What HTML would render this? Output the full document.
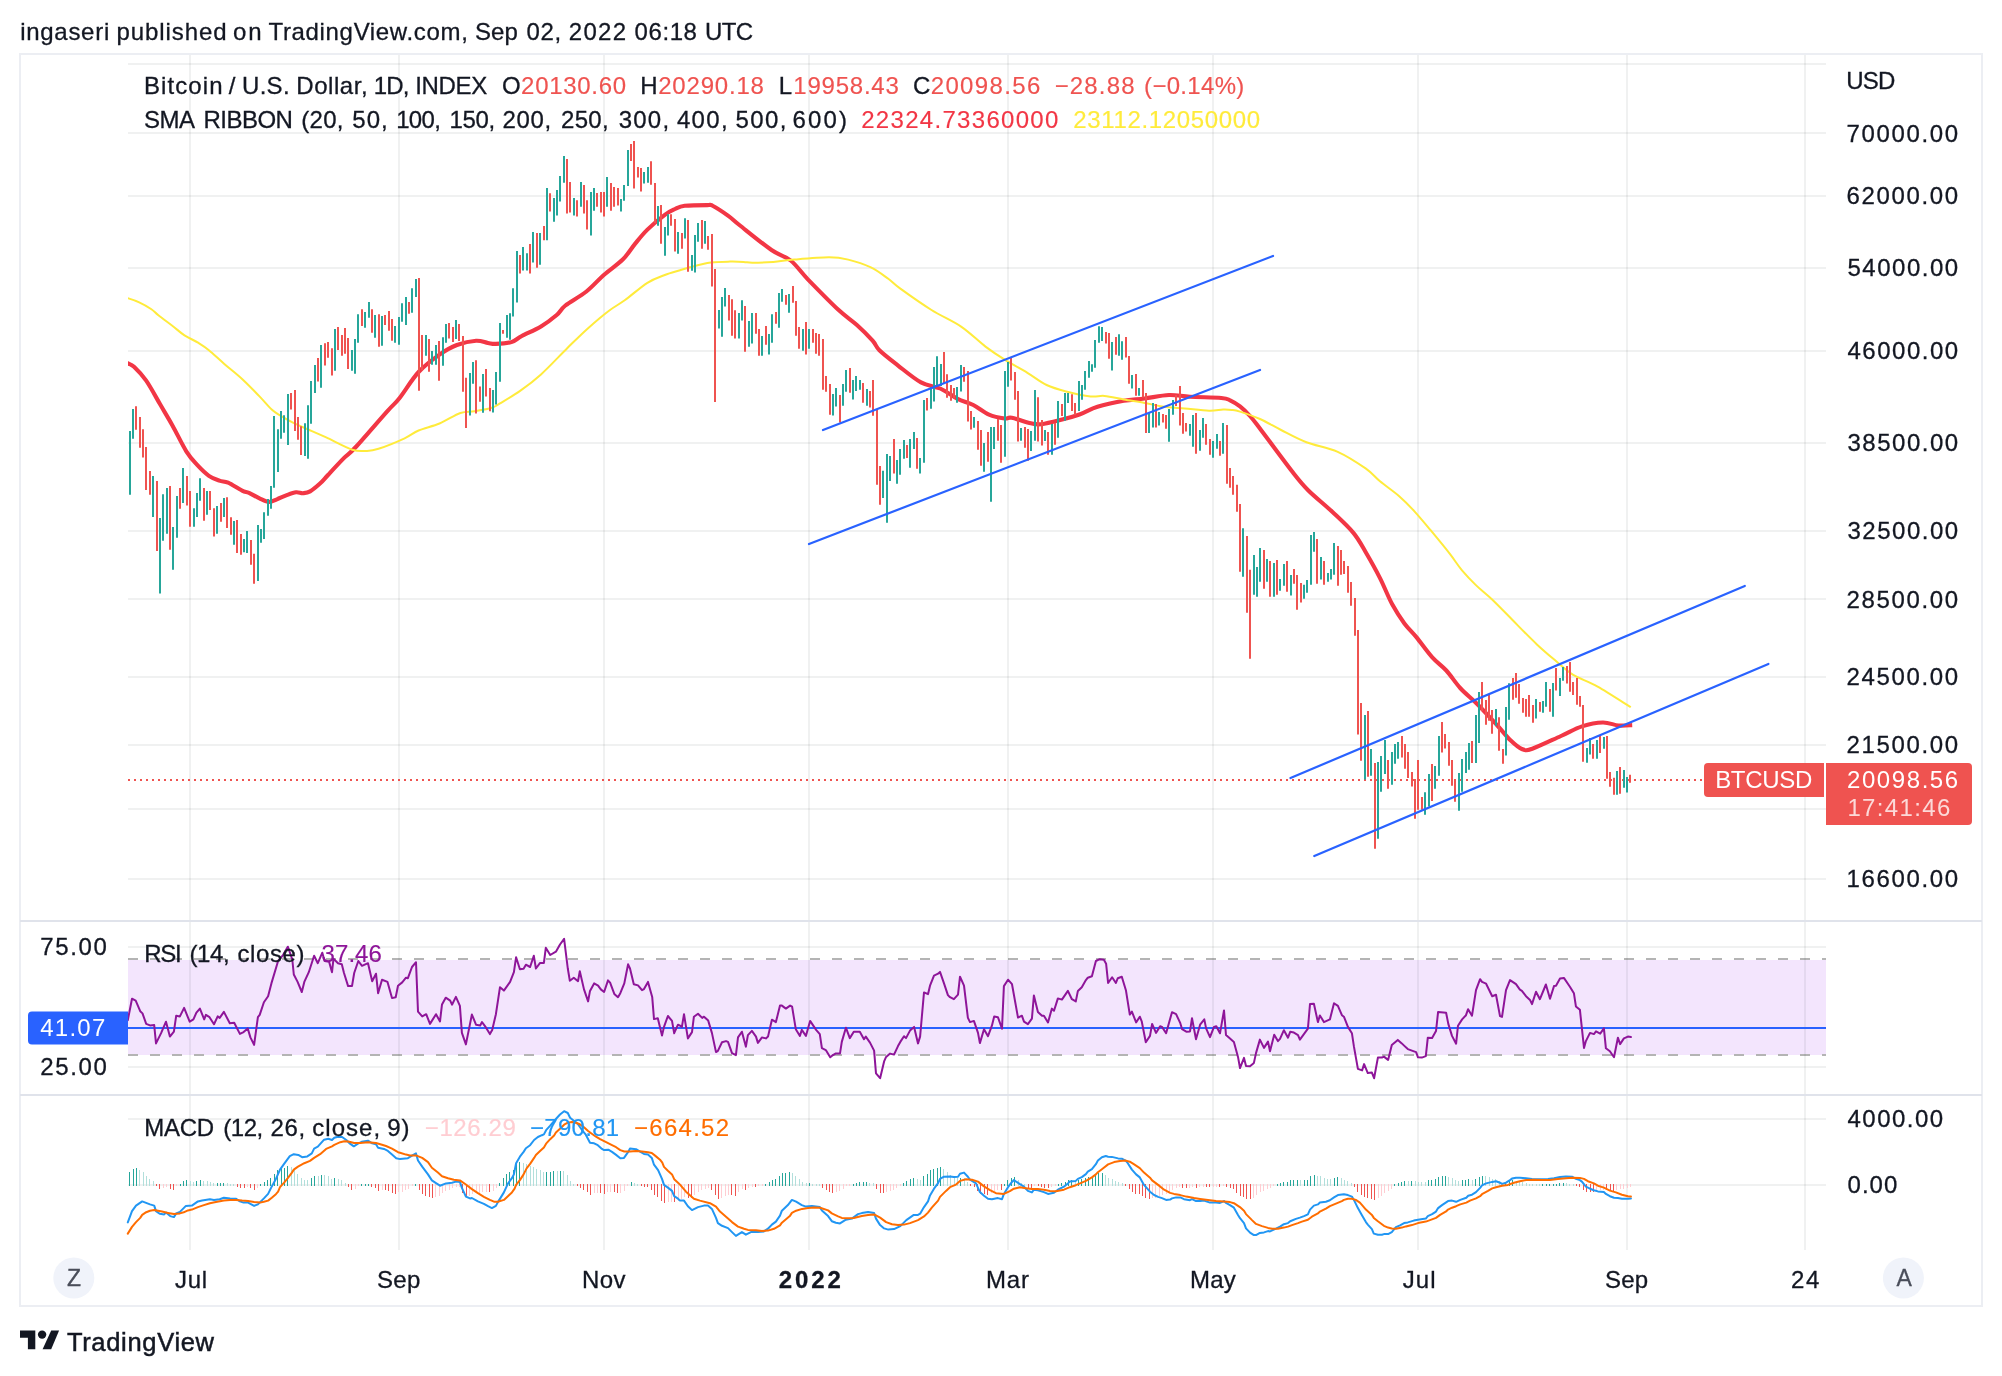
<!DOCTYPE html>
<html><head><meta charset="utf-8"><title>BTCUSD chart</title>
<style>html,body{margin:0;padding:0;background:#fff;}body{width:2002px;height:1376px;overflow:hidden;font-family:"Liberation Sans",sans-serif;}svg{display:block;will-change:transform;}text{font-family:"Liberation Sans",sans-serif;}</style></head><body>
<svg width="2002" height="1376" viewBox="0 0 2002 1376">
<rect x="0" y="0" width="2002" height="1376" fill="#ffffff"/>
<rect x="128" y="960" width="1698" height="95" fill="#f3e5fd"/>
<g stroke="#b4b4b4" stroke-width="2" stroke-dasharray="10 12" shape-rendering="crispEdges">
<line x1="128" y1="959" x2="1826" y2="959"/><line x1="128" y1="1055" x2="1826" y2="1055"/></g>
<g stroke="#20282a" stroke-opacity="0.065" stroke-width="2" shape-rendering="crispEdges">
<line x1="190" y1="55" x2="190" y2="1250"/>
<line x1="399" y1="55" x2="399" y2="1250"/>
<line x1="604" y1="55" x2="604" y2="1250"/>
<line x1="809" y1="55" x2="809" y2="1250"/>
<line x1="1008" y1="55" x2="1008" y2="1250"/>
<line x1="1213" y1="55" x2="1213" y2="1250"/>
<line x1="1418" y1="55" x2="1418" y2="1250"/>
<line x1="1627" y1="55" x2="1627" y2="1250"/>
<line x1="1805" y1="55" x2="1805" y2="1250"/>
<line x1="128" y1="64" x2="1826" y2="64"/>
<line x1="128" y1="133" x2="1826" y2="133"/>
<line x1="128" y1="196" x2="1826" y2="196"/>
<line x1="128" y1="268" x2="1826" y2="268"/>
<line x1="128" y1="351" x2="1826" y2="351"/>
<line x1="128" y1="443" x2="1826" y2="443"/>
<line x1="128" y1="531" x2="1826" y2="531"/>
<line x1="128" y1="599" x2="1826" y2="599"/>
<line x1="128" y1="677" x2="1826" y2="677"/>
<line x1="128" y1="745" x2="1826" y2="745"/>
<line x1="128" y1="809" x2="1826" y2="809"/>
<line x1="128" y1="879" x2="1826" y2="879"/>
<line x1="128" y1="947" x2="1826" y2="947"/>
<line x1="128" y1="1067" x2="1826" y2="1067"/>
<line x1="128" y1="1119" x2="1826" y2="1119"/>
<line x1="128" y1="1185" x2="1826" y2="1185"/>
</g>
<g fill="none" stroke="#eceef3" stroke-width="2" shape-rendering="crispEdges">
<rect x="20" y="54" width="1962" height="1252"/>
<line x1="20" y1="921" x2="1982" y2="921" stroke="#e0e3eb"/><line x1="20" y1="1095" x2="1982" y2="1095" stroke="#e0e3eb"/>
</g>
<line x1="128" y1="780" x2="1704" y2="780" stroke="#ef5350" stroke-width="2" stroke-dasharray="2 4" shape-rendering="crispEdges"/>
<clipPath id="cp"><rect x="128" y="55" width="1698" height="865"/></clipPath><g clip-path="url(#cp)">
<path d="M120.0 359.5C121.3 360.1 125.5 362.1 127.8 363.3C130.1 364.5 130.9 363.9 134.0 366.8C137.1 369.7 141.8 374.4 146.2 380.7C150.5 386.9 155.8 396.9 160.1 404.3C164.4 411.7 167.9 417.4 172.3 425.2C176.7 433.0 182.2 444.8 186.3 451.3C190.4 457.8 192.9 460.3 196.7 464.4C200.5 468.5 205.1 473.1 208.9 475.8C212.7 478.5 216.2 479.5 219.4 480.6C222.6 481.8 224.3 481.0 228.1 482.7C231.9 484.4 238.6 488.9 242.1 490.6C245.6 492.3 246.1 491.5 249.0 492.8C251.9 494.1 256.1 496.9 259.5 498.4C262.9 499.9 266.2 501.8 269.1 501.9C272.0 502.0 273.8 500.5 276.9 499.3C279.9 498.1 284.2 496.1 287.4 494.9C290.6 493.7 293.5 492.6 296.1 492.3C298.7 492.0 300.8 493.4 303.1 493.2C305.4 493.0 307.3 493.0 310.1 491.4C312.9 489.8 317.0 486.3 320.0 483.6C323.0 480.9 324.1 479.2 328.0 475.0C331.9 470.8 339.0 463.1 343.6 458.4C348.2 453.7 348.5 454.9 355.8 447.0C363.1 439.1 379.9 419.4 387.2 411.3C394.5 403.2 394.2 404.8 399.4 398.2C404.6 391.6 411.9 379.3 418.6 372.0C425.3 364.7 433.1 359.1 439.5 354.6C445.9 350.1 450.8 347.3 456.9 345.0C463.0 342.7 470.9 341.0 476.1 340.7C481.3 340.4 484.7 342.5 488.0 343.0C491.3 343.5 491.8 344.0 495.7 343.9C499.6 343.8 507.0 343.4 511.4 342.1C515.8 340.8 516.9 338.6 521.8 336.0C526.7 333.4 535.2 329.9 541.0 326.4C546.8 322.9 552.6 318.5 556.7 315.0C560.8 311.5 560.5 309.4 565.4 305.5C570.3 301.6 580.0 296.6 586.4 291.5C592.8 286.4 597.7 280.4 603.8 275.0C609.9 269.6 617.8 264.5 623.0 259.3C628.2 254.1 631.1 248.6 635.2 243.6C639.3 238.6 642.5 234.4 647.4 229.6C652.3 224.8 660.2 218.2 664.8 214.8C669.4 211.4 671.7 210.5 675.0 209.0C678.3 207.5 679.3 206.5 684.7 205.8C690.1 205.2 702.8 205.1 707.4 205.1C712.0 205.1 709.1 204.0 712.6 205.8C716.1 207.6 723.7 212.6 728.3 215.9C732.9 219.2 732.8 219.8 740.0 225.5C747.2 231.2 763.0 244.2 771.5 250.0C780.0 255.8 784.6 255.6 790.7 260.5C796.8 265.4 800.2 271.5 808.1 279.6C816.0 287.7 829.7 301.7 837.8 309.3C845.9 316.9 851.1 319.8 856.9 325.0C862.7 330.2 868.9 336.5 872.6 340.7C876.4 344.9 875.1 346.0 879.4 350.2C883.7 354.4 891.5 360.4 898.4 365.8C905.3 371.2 914.0 378.6 921.0 382.4C928.0 386.2 934.1 385.8 940.2 388.5C946.3 391.2 952.1 396.1 957.6 398.9C963.1 401.6 968.1 402.4 973.3 405.0C978.5 407.6 983.8 412.4 989.0 414.6C994.2 416.9 1000.9 418.0 1004.7 418.5C1008.5 419.0 1007.3 417.0 1011.7 417.8C1016.1 418.6 1026.0 422.2 1030.9 423.3C1035.8 424.4 1036.6 424.7 1041.3 424.2C1046.0 423.7 1052.7 422.0 1059.2 420.3C1065.7 418.6 1073.7 416.5 1080.1 414.2C1086.5 411.9 1090.2 408.9 1097.5 406.7C1104.8 404.5 1115.9 402.2 1123.7 400.8C1131.5 399.4 1137.0 399.5 1144.6 398.5C1152.1 397.5 1161.4 395.3 1169.0 395.0C1176.6 394.7 1181.3 396.3 1190.0 396.8C1198.7 397.3 1214.6 397.4 1221.3 398.0C1228.0 398.6 1227.0 398.9 1230.1 400.3C1233.2 401.7 1236.7 403.8 1240.0 406.4C1243.3 409.0 1246.5 412.1 1250.0 416.0C1253.5 419.9 1253.9 420.7 1261.0 430.0C1268.1 439.3 1284.6 461.8 1292.4 471.8C1300.2 481.8 1301.4 483.5 1308.1 490.2C1314.8 496.9 1325.0 504.9 1332.5 512.0C1340.0 519.1 1347.9 526.2 1353.4 532.9C1358.9 539.6 1361.2 544.5 1365.6 552.0C1370.0 559.5 1375.6 569.4 1380.0 578.1C1384.4 586.8 1388.1 596.8 1392.2 604.3C1396.3 611.8 1400.3 617.9 1404.4 623.4C1408.5 628.9 1411.9 631.7 1416.6 637.4C1421.2 643.1 1427.3 651.9 1432.3 657.4C1437.2 662.9 1441.6 665.4 1446.3 670.5C1451.0 675.6 1455.0 682.3 1460.2 688.0C1465.4 693.7 1471.6 698.3 1477.7 704.5C1483.8 710.7 1491.4 719.0 1496.9 725.0C1502.4 731.0 1506.3 736.3 1510.5 740.3C1514.7 744.3 1518.2 747.6 1521.8 749.0C1525.4 750.4 1525.8 750.9 1532.3 748.7C1538.8 746.5 1552.7 739.7 1561.0 736.0C1569.3 732.3 1575.0 728.6 1582.0 726.4C1589.0 724.1 1596.8 722.6 1602.9 722.5C1609.0 722.4 1613.7 725.1 1618.6 725.5C1623.5 725.9 1629.9 725.2 1632.2 725.1" fill="none" stroke="#f23645" stroke-width="4.1" stroke-linejoin="round" stroke-linecap="butt"/>
<path d="M120.0 296.5C121.3 296.8 124.6 297.2 127.8 298.2C131.0 299.2 135.3 300.5 139.2 302.3C143.1 304.1 148.2 307.0 151.4 309.2C154.6 311.4 154.9 312.5 158.4 315.3C161.9 318.1 168.0 322.5 172.3 325.8C176.7 329.1 180.1 332.5 184.5 335.4C188.9 338.2 194.4 340.4 198.5 342.9C202.6 345.4 204.6 346.6 208.9 350.2C213.2 353.8 219.1 359.4 224.6 364.2C230.1 369.0 236.3 373.6 242.1 379.0C247.9 384.4 254.6 391.3 259.5 396.4C264.4 401.5 268.2 406.3 271.7 409.5C275.2 412.7 276.6 413.3 280.4 415.6C284.2 417.9 289.8 421.1 294.4 423.4C299.0 425.7 303.0 427.2 308.3 429.5C313.6 431.8 318.9 434.0 326.2 437.4C333.5 440.8 345.6 447.4 352.3 449.7C359.0 451.9 361.9 451.0 366.3 450.9C370.7 450.8 372.1 450.9 378.5 448.8C384.9 446.7 397.9 441.4 404.6 438.3C411.3 435.2 412.8 433.0 418.6 430.5C424.4 428.0 432.5 426.4 439.5 423.5C446.5 420.6 454.6 415.0 460.4 413.0C466.2 411.0 469.2 412.2 474.4 411.3C479.6 410.4 487.5 409.1 491.8 407.8C496.1 406.5 495.3 406.2 500.0 403.4C504.7 400.6 513.3 395.7 520.1 390.9C526.9 386.1 533.1 381.5 541.0 374.4C548.9 367.3 559.4 355.9 567.2 348.2C575.1 340.5 581.1 334.4 588.1 328.2C595.1 321.9 602.9 315.3 609.0 310.7C615.1 306.1 618.3 304.9 624.7 300.3C631.1 295.7 640.7 287.0 647.4 282.8C654.1 278.6 659.4 277.1 664.8 275.0C670.2 272.9 675.8 271.6 680.0 270.3C684.2 269.0 684.9 268.6 690.0 267.3C695.1 266.0 704.2 263.6 710.9 262.6C717.6 261.7 724.5 261.7 730.0 261.6C735.5 261.5 739.9 261.7 743.6 261.9C747.3 262.1 747.4 262.7 752.3 262.7C757.2 262.7 766.2 262.4 773.2 261.9C780.2 261.4 784.9 260.4 794.2 259.6C803.5 258.8 820.0 257.3 829.0 257.3C838.0 257.3 841.2 257.9 848.2 259.6C855.2 261.3 864.2 264.2 870.9 267.4C877.6 270.6 883.4 275.3 888.3 278.8C893.1 282.3 892.8 283.2 900.0 288.4C907.2 293.6 921.3 303.6 931.5 310.0C941.7 316.4 952.1 320.5 961.1 326.6C970.1 332.7 978.2 341.1 985.5 346.6C992.8 352.1 997.7 355.3 1004.7 359.7C1011.7 364.1 1020.4 368.6 1027.4 372.8C1034.4 377.0 1040.1 381.9 1046.6 385.0C1053.1 388.1 1058.9 389.6 1066.2 391.5C1073.5 393.4 1084.2 395.7 1090.6 396.4C1097.0 397.1 1099.0 395.4 1104.5 395.9C1110.0 396.4 1117.0 398.2 1123.7 399.4C1130.4 400.6 1138.2 401.7 1144.6 402.9C1151.0 404.1 1155.3 405.5 1162.0 406.4C1168.7 407.3 1176.9 407.8 1184.7 408.5C1192.5 409.2 1202.7 410.5 1209.1 410.7C1215.5 410.9 1219.3 409.6 1223.1 409.5C1226.9 409.4 1229.0 409.5 1231.8 409.9C1234.6 410.2 1235.3 410.1 1240.0 411.6C1244.7 413.1 1253.2 415.9 1260.0 419.0C1266.8 422.1 1273.4 426.1 1281.1 430.0C1288.8 433.9 1297.0 438.6 1306.4 442.2C1315.8 445.8 1327.8 447.4 1337.7 451.8C1347.6 456.2 1358.5 463.5 1365.6 468.4C1372.6 473.3 1374.4 476.7 1380.0 481.3C1385.6 485.9 1393.4 491.1 1399.2 496.2C1405.0 501.3 1409.7 506.1 1414.9 511.8C1420.1 517.5 1424.8 523.2 1430.6 530.2C1436.4 537.2 1444.5 547.0 1449.7 553.7C1454.9 560.4 1457.6 565.1 1462.0 570.3C1466.4 575.5 1471.0 580.3 1475.9 585.1C1480.8 589.9 1485.5 593.2 1491.6 599.0C1497.7 604.8 1505.0 612.4 1512.5 620.0C1520.0 627.6 1529.3 637.3 1536.9 644.4C1544.5 651.5 1551.9 657.6 1557.9 662.7C1564.0 667.8 1566.6 670.9 1573.2 674.9C1579.8 678.9 1588.0 681.2 1597.6 686.6C1607.2 692.0 1625.3 703.8 1630.8 707.2" fill="none" stroke="#ffeb3b" stroke-width="2.0" stroke-linejoin="round" stroke-linecap="butt"/>
</g>
<path d="M130 431.1V494.7M133 409.1V438.8M153 475.9V516.9M160 518.1V593.6M163 494.2V540.8M167 488.1V533.8M173 527.0V569.7M177 496.0V537.8M183 468.1V502.9M194 508.2V526.8M197 493.0V516.9M200 478.2V500.7M207 491.1V514.8M217 505.9V533.8M224 498.0V516.9M234 520.9V544.8M244 539.0V552.3M247 531.0V553.0M258 525.1V580.9M261 529.1V542.7M264 512.2V539.0M268 499.1V515.7M271 486.0V508.7M274 416.1V487.8M278 429.3V471.9M281 411.0V438.8M284 415.2V432.7M288 393.9V444.9M305 423.2V455.9M308 405.3V458.8M311 381.1V423.8M315 365.1V393.0M321 345.0V387.8M335 329.0V370.7M352 349.9V370.7M355 339.1V373.8M358 314.2V342.8M365 312.1V327.8M369 302.0V317.7M375 315.0V337.7M382 316.1V345.7M395 326.0V342.8M399 317.1V344.7M402 303.2V321.8M406 297.1V325.0M412 288.2V312.8M416 279.1V297.1M426 335.1V355.8M432 351.1V364.7M436 345.0V364.7M443 337.2V365.8M446 324.1V342.8M456 320.1V338.9M470 373.1V415.6M473 362.1V383.7M483 374.0V412.7M493 390.1V412.4M496 372.1V404.4M500 323.1V381.7M507 315.1V337.8M510 313.2V339.8M513 288.2V316.5M517 251.1V302.5M523 247.1V270.6M527 253.2V270.6M533 232.1V262.6M540 233.0V264.7M547 188.0V240.3M554 198.1V221.7M557 190.1V215.6M560 176.1V201.6M564 156.1V182.8M574 198.1V215.6M581 182.1V206.7M591 192.0V235.4M594 188.0V210.7M607 177.0V206.7M621 199.0V211.5M624 185.0V200.7M628 150.0V185.9M644 172.1V183.6M648 167.1V182.8M658 206.1V225.7M665 227.1V255.7M668 214.2V235.4M678 232.1V253.7M685 218.2V238.6M692 255.0V270.7M695 235.1V272.6M698 223.1V241.7M705 221.1V243.8M719 310.1V328.4M722 297.0V336.7M725 288.1V306.6M739 313.1V338.6M742 300.2V320.6M749 321.1V346.8M752 313.1V343.6M762 336.1V355.7M769 334.0V354.6M772 314.2V342.8M779 293.1V327.8M782 289.1V301.8M789 294.1V312.8M803 329.0V350.8M809 329.0V348.7M833 393.9V415.6M836 387.9V406.6M843 383.9V405.7M846 370.0V391.8M853 379.9V399.6M856 375.9V390.9M860 379.9V389.8M867 389.0V405.7M883 470.8V498.0M887 453.9V522.7M890 455.9V480.9M897 460.0V483.8M900 449.0V474.8M904 439.9V458.7M910 439.0V467.8M914 432.1V449.0M920 457.9V473.6M924 400.1V462.7M931 387.1V408.7M934 367.0V401.5M937 356.2V385.0M941 364.1V385.9M957 387.1V402.8M961 365.1V391.6M974 417.1V427.7M984 442.9V471.8M991 427.0V501.8M994 427.0V449.0M1005 371.0V456.8M1008 362.1V386.7M1021 428.0V440.8M1031 431.0V450.9M1035 390.0V440.8M1045 429.9V440.9M1052 424.0V454.8M1058 401.1V437.8M1065 393.1V420.7M1068 393.1V402.9M1079 381.1V411.1M1082 385.1V399.7M1085 371.1V389.8M1089 361.0V377.8M1092 364.2V371.8M1095 340.1V367.7M1099 326.2V342.7M1102 327.0V341.0M1112 342.0V370.6M1119 334.2V355.8M1122 341.2V359.8M1132 375.0V388.6M1139 388.1V395.7M1149 413.0V432.9M1153 403.1V427.6M1159 412.1V425.5M1169 409.0V441.8M1173 400.1V414.7M1190 424.0V435.7M1193 415.1V446.8M1200 429.9V450.7M1203 418.0V437.8M1213 440.9V457.8M1217 433.9V448.7M1223 422.9V453.8M1243 528.2V576.8M1254 555.0V594.8M1257 567.1V596.7M1260 548.0V581.7M1267 559.0V581.7M1274 562.9V596.7M1280 578.9V590.8M1284 563.9V585.7M1291 574.9V595.6M1304 584.8V598.8M1307 580.0V592.7M1311 535.0V584.7M1314 532.0V551.7M1321 556.9V579.6M1328 573.0V581.7M1331 569.0V579.6M1334 543.0V574.7M1365 715.1V779.6M1371 749.1V775.8M1378 762.0V838.7M1381 755.9V791.8M1385 740.0V773.9M1392 752.1V784.7M1395 744.0V763.7M1398 742.1V758.7M1425 792.2V814.8M1429 773.9V806.6M1435 766.0V788.7M1439 736.0V775.8M1459 773.0V810.8M1462 759.0V791.8M1466 752.1V773.0M1469 743.0V769.8M1476 715.1V762.9M1479 692.1V743.0M1496 709.0V725.7M1506 707.1V755.5M1509 683.2V719.8M1536 699.0V718.6M1543 701.1V712.8M1546 682.1V706.7M1553 683.1V716.8M1560 678.1V695.9M1563 667.1V680.7M1587 748.0V762.8M1590 738.0V754.6M1597 740.0V758.8M1604 737.0V748.7M1617 771.0V794.7M1624 770.0V787.7M1627 776.9V792.6" stroke="#26a69a" stroke-width="2" fill="none"/>
<path d="M136 406.2V429.7M140 417.1V447.7M143 429.3V457.6M146 447.1V489.9M150 471.0V494.7M157 481.1V550.9M170 486.0V549.7M180 488.1V508.7M187 475.9V505.5M190 491.1V526.8M204 488.1V520.7M210 491.1V509.9M214 508.2V536.6M221 502.9V521.8M227 497.2V527.9M231 517.2V534.7M237 520.0V553.0M241 534.0V554.7M251 540.1V564.8M254 553.8V583.7M291 393.1V409.6M295 390.1V430.9M298 417.1V439.8M301 426.2V455.0M318 358.1V381.6M325 343.3V365.6M328 342.1V357.8M332 348.2V375.5M338 327.1V349.9M342 335.1V355.8M345 328.1V353.7M348 338.1V368.9M362 309.3V325.9M372 309.3V332.8M379 314.2V346.8M385 315.0V325.0M389 311.0V330.7M392 319.0V340.8M409 302.0V313.8M419 277.9V390.7M422 335.1V370.3M429 339.1V371.7M439 341.0V380.8M449 323.1V338.6M453 327.1V341.9M459 324.1V341.0M463 336.0V391.8M466 377.8V427.9M476 360.2V413.6M480 386.4V401.7M486 369.1V396.5M490 388.0V411.3M503 329.9V333.7M520 255.1V273.6M530 244.1V273.6M537 233.1V267.7M544 226.0V240.3M550 193.2V211.5M567 159.1V213.6M570 182.1V212.4M577 200.2V216.4M584 185.0V213.6M587 200.2V229.5M597 193.1V206.7M601 192.0V212.4M604 192.0V216.4M611 183.1V210.7M614 187.1V206.7M618 188.0V205.6M631 144.1V161.0M634 141.1V188.5M638 167.1V177.5M641 168.1V191.5M651 161.2V184.7M655 183.1V222.9M661 205.1V243.8M671 214.2V225.7M675 219.0V251.6M682 233.0V248.7M688 220.1V271.7M702 220.1V248.7M708 236.1V249.7M712 234.0V286.5M715 269.1V402.0M729 295.0V320.6M732 299.2V335.8M735 310.2V338.6M745 306.1V351.7M756 313.1V333.7M759 329.0V355.7M766 326.0V344.7M776 312.1V323.8M786 295.0V304.8M793 286.1V302.7M796 301.1V335.8M799 327.1V348.7M806 322.0V354.6M813 329.0V342.8M816 333.0V353.7M819 334.0V355.7M823 339.1V389.8M826 375.9V391.8M830 383.9V414.8M840 394.9V422.6M850 368.0V392.8M863 383.1V402.8M870 391.1V407.6M873 380.1V415.7M877 410.1V484.7M880 466.1V504.8M894 439.0V473.6M907 445.0V457.9M917 438.0V468.7M927 398.1V410.6M944 352.0V382.9M947 374.2V397.7M951 385.0V400.7M954 388.1V398.6M964 367.0V381.8M968 371.0V421.6M971 411.1V429.6M978 421.1V449.8M981 430.0V465.7M988 432.1V461.7M998 419.0V440.8M1001 425.1V462.7M1011 358.1V380.6M1015 372.1V399.8M1018 391.1V441.6M1025 427.0V447.8M1028 429.1V460.7M1038 397.2V441.6M1042 420.0V445.6M1048 432.0V454.8M1055 422.9V444.7M1062 404.1V416.1M1072 394.2V411.1M1075 403.1V415.1M1106 332.1V343.6M1109 333.1V358.8M1116 337.1V354.8M1126 337.1V357.5M1129 356.1V383.7M1136 374.1V395.7M1143 380.0V397.6M1146 393.1V432.9M1156 404.1V427.6M1163 414.0V422.6M1166 415.1V428.7M1176 395.0V406.0M1180 386.0V425.5M1183 413.0V433.7M1186 422.9V431.6M1196 413.0V453.8M1206 424.0V444.7M1210 439.0V454.7M1220 440.9V455.7M1227 425.0V483.8M1230 468.1V487.8M1233 476.1V494.8M1237 484.8V511.7M1240 504.1V571.8M1247 536.0V612.7M1250 569.8V658.8M1264 550.0V588.7M1270 561.0V596.7M1277 559.9V594.8M1287 561.0V591.8M1294 569.0V583.8M1297 574.9V609.8M1301 582.9V602.6M1317 539.0V583.8M1324 561.0V584.7M1338 546.1V585.7M1341 550.0V574.7M1344 561.0V573.9M1348 566.0V592.7M1351 581.9V605.8M1355 598.1V635.8M1358 630.0V734.6M1361 703.1V760.8M1368 711.1V776.8M1375 762.9V848.7M1388 759.9V788.7M1402 736.0V757.6M1405 744.0V768.8M1408 752.1V777.9M1412 771.9V786.6M1415 778.9V818.7M1418 759.9V809.8M1422 797.0V809.8M1432 763.9V800.9M1442 722.1V752.6M1445 734.1V748.6M1449 742.1V765.7M1452 759.9V785.7M1455 778.9V801.8M1472 741.1V762.9M1482 682.1V711.1M1486 700.1V724.7M1489 695.0V720.7M1492 710.0V733.7M1499 717.2V750.7M1503 749.1V763.7M1513 678.1V699.7M1516 673.1V697.7M1519 684.1V703.8M1523 698.0V712.7M1526 699.0V716.7M1529 695.0V716.7M1533 705.0V722.8M1540 702.0V711.7M1550 689.0V711.7M1556 668.1V690.6M1567 666.0V683.6M1570 662.0V691.7M1573 682.1V695.0M1577 678.1V704.7M1580 696.0V706.7M1583 705.1V761.8M1593 744.0V758.8M1600 736.1V752.9M1607 736.1V778.7M1610 771.9V786.7M1614 777.8V794.7M1620 767.0V793.7M1630 774.8V782.7" stroke="#ef5350" stroke-width="2" fill="none"/>
<g stroke="#2962ff" stroke-width="2.2" stroke-linecap="round">
<line x1="823" y1="430" x2="1273" y2="256"/>
<line x1="809" y1="544" x2="1260" y2="370"/>
<line x1="1290.5" y1="778" x2="1744.8" y2="586"/>
<line x1="1314.3" y1="856" x2="1768.4" y2="664"/>
</g>
<line x1="128" y1="1028" x2="1826" y2="1028" stroke="#2962ff" stroke-width="2" shape-rendering="crispEdges"/>
<polyline points="127.8,1020.2 132.0,998.7 135.7,1000.7 140.2,1011.2 142.5,1013.4 146.2,1023.9 150.0,1025.4 154.2,1025.1 156.0,1043.4 161.2,1032.9 166.0,1021.7 169.9,1036.6 173.9,1031.7 176.2,1015.7 179.9,1016.4 184.1,1007.9 189.7,1021.7 193.4,1019.4 196.4,1012.7 199.9,1008.6 204.2,1019.4 205.9,1014.9 209.5,1017.2 214.0,1024.2 217.7,1016.4 219.7,1017.9 223.9,1011.9 229.8,1023.2 234.2,1022.7 239.9,1033.9 243.6,1032.1 247.7,1028.4 250.4,1037.4 254.1,1044.9 257.9,1017.2 259.7,1014.9 263.9,1002.2 268.1,996.2 271.4,983.4 278.1,961.0 282.6,955.7 287.8,946.7 292.3,959.5 293.8,974.5 297.6,981.9 301.8,992.0 304.3,981.9 308.8,972.2 314.1,955.7 317.8,963.2 322.3,952.7 324.6,961.0 329.1,961.7 332.0,972.2 333.5,958.7 338.0,963.2 341.8,964.3 344.0,973.0 348.1,986.1 352.0,986.1 354.2,973.0 358.3,961.0 362.0,965.8 368.0,963.2 372.2,981.2 376.0,973.7 378.1,993.2 382.0,979.7 387.5,981.9 392.0,998.1 395.7,997.2 398.0,985.7 402.2,982.4 406.0,977.7 407.9,978.2 412.0,967.0 416.0,962.2 418.0,1011.6 422.2,1016.4 426.2,1014.2 430.0,1023.9 436.0,1014.2 440.0,1021.4 442.0,1004.4 445.7,997.7 450.2,1000.7 452.0,1004.7 455.9,996.9 459.9,1005.9 461.9,1032.9 465.9,1044.4 471.9,1014.5 476.0,1024.7 480.2,1025.4 482.0,1022.1 485.9,1027.4 489.9,1034.1 492.2,1029.9 495.9,1014.2 500.0,987.2 503.9,990.6 510.1,981.9 513.9,972.2 516.1,957.2 519.9,969.2 523.6,968.8 525.9,964.7 530.1,967.0 533.8,955.7 535.9,968.5 540.1,962.9 543.9,962.9 545.8,947.8 550.2,955.0 555.9,951.7 560.0,944.5 564.1,938.9 567.8,968.5 569.8,980.7 573.8,977.7 578.0,981.2 579.8,971.2 584.0,989.4 588.1,1001.4 590.0,990.9 594.1,983.4 598.1,985.7 600.8,989.4 604.1,992.0 608.0,980.4 610.1,982.7 614.3,993.9 618.0,997.2 620.3,993.2 624.3,983.4 628.1,964.3 630.0,968.5 633.8,984.2 638.0,985.4 642.0,990.2 644.0,989.1 648.0,981.9 652.2,996.9 654.0,1019.1 657.8,1018.2 662.0,1035.6 664.0,1026.9 667.9,1016.0 672.0,1020.9 674.2,1033.2 678.0,1024.7 680.0,1025.7 681.9,1026.9 684.0,1014.2 687.9,1038.4 692.0,1032.1 693.9,1016.7 698.0,1013.7 702.2,1017.9 704.0,1016.7 708.2,1020.6 711.9,1032.9 716.0,1052.1 717.9,1050.9 722.0,1042.2 726.0,1041.1 728.0,1041.9 732.0,1053.1 735.9,1055.1 738.0,1037.4 741.9,1031.7 745.9,1046.7 747.9,1035.1 751.9,1030.9 756.0,1036.6 757.9,1042.9 762.0,1037.4 765.9,1038.4 768.0,1036.6 771.9,1019.7 775.9,1022.1 780.0,1005.6 781.9,1005.6 785.9,1008.6 790.1,1005.6 792.1,1006.7 795.8,1029.2 799.9,1035.9 801.8,1029.9 805.9,1035.9 810.1,1020.9 814.1,1026.9 816.1,1029.9 819.8,1034.1 821.9,1048.2 825.8,1050.1 830.2,1057.3 832.1,1055.7 835.9,1053.4 840.0,1053.4 841.8,1041.9 845.9,1027.7 849.8,1038.1 853.8,1031.7 859.8,1031.7 864.0,1039.2 865.8,1036.6 870.0,1042.6 874.1,1050.6 876.0,1073.4 880.1,1078.2 884.1,1061.4 886.1,1056.9 890.1,1053.6 894.0,1054.6 898.0,1046.1 900.3,1041.9 904.0,1036.2 906.0,1038.1 910.0,1030.6 914.1,1026.9 918.0,1043.4 920.1,1036.6 924.0,992.4 928.0,994.2 930.0,985.7 934.0,975.7 938.1,973.7 940.0,971.9 944.0,983.4 947.9,995.1 950.0,997.2 953.9,999.2 958.0,994.7 960.0,976.7 964.0,985.7 967.9,1017.9 970.0,1022.1 973.9,1020.9 978.0,1032.9 979.9,1043.1 984.0,1029.2 988.0,1036.2 991.9,1025.7 994.2,1016.4 997.9,1017.2 1002.0,1028.7 1003.9,986.1 1008.0,979.7 1012.0,984.2 1018.0,1017.6 1021.9,1015.7 1024.0,1021.7 1027.9,1024.2 1031.9,1018.7 1033.9,995.4 1037.9,1011.9 1042.0,1015.7 1043.9,1015.7 1048.0,1022.4 1051.9,1008.6 1054.0,1010.7 1057.9,998.4 1061.9,999.6 1067.9,990.9 1071.9,999.2 1075.8,1001.4 1077.9,990.9 1081.8,987.2 1085.9,980.1 1087.8,977.7 1091.9,976.3 1095.9,961.0 1099.8,959.2 1103.9,959.8 1106.1,963.7 1108.1,983.0 1112.1,977.2 1115.9,983.0 1117.8,978.2 1121.8,976.7 1125.9,990.2 1129.8,1014.6 1131.9,1011.6 1136.1,1022.4 1139.8,1016.7 1141.8,1021.7 1145.8,1042.2 1150.0,1035.9 1152.1,1023.9 1156.0,1032.9 1160.1,1026.2 1162.0,1026.9 1166.1,1033.2 1172.0,1012.2 1176.1,1014.2 1180.3,1023.2 1182.1,1029.2 1186.3,1031.7 1190.0,1031.4 1192.0,1018.2 1196.0,1039.2 1200.1,1024.7 1204.3,1019.4 1206.1,1028.4 1210.0,1037.1 1214.0,1026.9 1216.3,1026.2 1220.0,1033.3 1224.0,1010.4 1226.0,1035.1 1230.0,1038.6 1233.9,1041.9 1238.0,1056.9 1240.0,1068.1 1244.0,1057.9 1246.0,1065.9 1250.0,1066.2 1253.9,1062.9 1256.0,1053.1 1259.9,1039.6 1264.0,1047.9 1268.0,1041.6 1270.0,1051.2 1274.2,1034.8 1277.9,1041.1 1280.0,1038.9 1283.9,1030.2 1288.0,1037.7 1290.2,1031.8 1293.9,1032.6 1298.0,1035.1 1299.9,1039.6 1307.9,1028.7 1310.0,1004.1 1313.9,1003.7 1317.9,1022.1 1319.9,1015.4 1323.9,1022.1 1329.9,1019.4 1334.0,1003.2 1337.9,1005.9 1341.9,1015.2 1343.9,1016.7 1347.9,1026.9 1351.9,1033.2 1353.9,1046.4 1357.9,1068.9 1362.1,1070.4 1364.1,1064.1 1367.8,1073.1 1371.9,1072.6 1374.1,1078.2 1377.9,1057.6 1381.9,1057.6 1383.9,1056.6 1388.1,1059.9 1391.8,1044.9 1397.8,1039.9 1401.8,1043.4 1404.1,1045.6 1407.8,1049.1 1411.9,1050.6 1416.1,1052.1 1418.0,1057.3 1421.8,1057.6 1425.8,1056.1 1427.8,1037.7 1432.1,1038.1 1436.0,1031.1 1438.1,1011.9 1446.1,1012.7 1448.3,1023.9 1452.0,1035.9 1456.1,1043.7 1458.0,1025.7 1462.1,1019.4 1466.0,1015.2 1468.1,1009.2 1472.0,1015.7 1476.0,990.2 1480.1,979.2 1482.0,981.9 1486.1,983.7 1492.2,996.2 1496.0,994.7 1500.0,1016.1 1502.0,1016.9 1506.0,990.2 1510.0,980.1 1516.0,984.2 1519.9,989.7 1521.9,990.9 1526.0,996.2 1530.0,999.9 1532.0,1004.1 1536.0,991.7 1539.9,999.2 1545.9,984.5 1550.0,998.7 1554.0,986.1 1556.0,985.7 1560.0,978.6 1563.9,977.9 1569.9,986.7 1573.9,993.2 1575.9,1006.4 1579.9,1009.7 1581.9,1028.4 1584.0,1047.9 1585.9,1041.1 1590.0,1032.9 1593.9,1034.1 1596.0,1031.4 1600.2,1033.6 1603.9,1028.4 1605.9,1048.3 1609.9,1051.3 1614.0,1057.2 1617.9,1037.7 1620.1,1044.1 1623.9,1038.4 1627.9,1036.6 1630.9,1037.1" fill="none" stroke="#8e1599" stroke-width="2.0" stroke-linejoin="round" stroke-linecap="round" />
<path d="M129.5 1186V1172.2M133.5 1186V1169.2M136.5 1186V1168.1M180.5 1186V1184.0M183.5 1186V1181.2M186.5 1186V1180.1M196.5 1186V1180.9M200.5 1186V1180.1M217.5 1186V1183.1M220.5 1186V1183.1M223.5 1186V1183.0M260.5 1186V1184.0M264.5 1186V1181.9M267.5 1186V1180.1M270.5 1186V1178.2M274.5 1186V1174.1M277.5 1186V1170.2M281.5 1186V1168.4M284.5 1186V1168.1M287.5 1186V1166.2M311.5 1186V1178.2M314.5 1186V1175.9M321.5 1186V1175.2M334.5 1186V1178.2M361.5 1186V1184.0M365.5 1186V1184.0M368.5 1186V1184.0M415.5 1186V1184.0M499.5 1186V1182.8M503.5 1186V1178.4M506.5 1186V1174.2M509.5 1186V1171.7M513.5 1186V1170.1M516.5 1186V1163.1M519.5 1186V1161.6M546.5 1186V1171.5M550.5 1186V1171.5M553.5 1186V1170.7M560.5 1186V1170.8M631.5 1186V1182.4M765.5 1186V1184.0M769.5 1186V1182.3M772.5 1186V1180.0M775.5 1186V1179.0M779.5 1186V1176.0M782.5 1186V1173.0M785.5 1186V1172.6M789.5 1186V1171.8M809.5 1186V1183.2M853.5 1186V1184.0M856.5 1186V1183.0M859.5 1186V1182.1M863.5 1186V1182.0M866.5 1186V1182.0M903.5 1186V1183.2M906.5 1186V1180.8M910.5 1186V1179.3M913.5 1186V1178.2M923.5 1186V1175.9M927.5 1186V1174.2M930.5 1186V1170.1M933.5 1186V1168.6M937.5 1186V1167.7M940.5 1186V1167.3M960.5 1186V1177.8M1004.5 1186V1184.0M1007.5 1186V1180.1M1011.5 1186V1177.5M1014.5 1186V1177.1M1058.5 1186V1183.7M1061.5 1186V1182.7M1065.5 1186V1181.5M1068.5 1186V1180.1M1071.5 1186V1179.8M1078.5 1186V1179.6M1081.5 1186V1179.4M1085.5 1186V1178.4M1088.5 1186V1176.9M1092.5 1186V1176.7M1095.5 1186V1175.1M1098.5 1186V1173.4M1102.5 1186V1173.1M1277.5 1186V1184.0M1280.5 1186V1183.1M1283.5 1186V1181.6M1287.5 1186V1181.6M1290.5 1186V1180.4M1293.5 1186V1180.3M1297.5 1186V1180.1M1304.5 1186V1180.1M1307.5 1186V1179.8M1310.5 1186V1176.3M1314.5 1186V1175.0M1334.5 1186V1177.8M1337.5 1186V1177.3M1394.5 1186V1184.0M1398.5 1186V1182.9M1401.5 1186V1181.8M1404.5 1186V1181.3M1411.5 1186V1181.1M1428.5 1186V1180.1M1431.5 1186V1179.8M1435.5 1186V1178.9M1438.5 1186V1176.8M1442.5 1186V1176.4M1445.5 1186V1176.0M1462.5 1186V1180.4M1465.5 1186V1180.1M1468.5 1186V1179.3M1475.5 1186V1178.8M1479.5 1186V1177.3M1482.5 1186V1176.2M1505.5 1186V1182.5M1509.5 1186V1181.2M1512.5 1186V1180.3M1542.5 1186V1184.0M1546.5 1186V1184.0M1549.5 1186V1183.7M1553.5 1186V1183.7M1556.5 1186V1183.6M1559.5 1186V1183.3M1563.5 1186V1183.2" stroke="#26a69a" stroke-width="1" fill="none" shape-rendering="crispEdges"/>
<path d="M139.5 1186V1169.9M143.5 1186V1172.2M146.5 1186V1175.9M149.5 1186V1178.9M153.5 1186V1180.9M190.5 1186V1181.2M193.5 1186V1181.9M203.5 1186V1180.9M207.5 1186V1181.2M210.5 1186V1181.9M213.5 1186V1183.1M227.5 1186V1183.4M230.5 1186V1183.9M233.5 1186V1184.0M291.5 1186V1167.2M294.5 1186V1169.9M297.5 1186V1174.1M301.5 1186V1178.2M304.5 1186V1180.1M307.5 1186V1180.1M318.5 1186V1175.9M324.5 1186V1175.2M328.5 1186V1176.2M331.5 1186V1179.2M338.5 1186V1178.9M341.5 1186V1180.1M345.5 1186V1183.4M523.5 1186V1162.5M526.5 1186V1164.3M530.5 1186V1166.3M533.5 1186V1166.9M536.5 1186V1168.7M540.5 1186V1170.1M543.5 1186V1171.8M557.5 1186V1171.3M563.5 1186V1171.4M567.5 1186V1174.5M570.5 1186V1180.8M573.5 1186V1183.5M634.5 1186V1183.0M637.5 1186V1184.0M792.5 1186V1172.6M795.5 1186V1175.8M799.5 1186V1178.9M802.5 1186V1181.6M806.5 1186V1183.2M812.5 1186V1183.5M816.5 1186V1184.0M819.5 1186V1184.0M869.5 1186V1182.5M873.5 1186V1183.4M917.5 1186V1179.4M920.5 1186V1179.5M943.5 1186V1168.8M947.5 1186V1171.8M950.5 1186V1174.6M954.5 1186V1176.5M957.5 1186V1178.4M964.5 1186V1178.0M967.5 1186V1181.9M1018.5 1186V1180.2M1021.5 1186V1182.7M1024.5 1186V1184.0M1075.5 1186V1180.5M1105.5 1186V1174.7M1108.5 1186V1177.7M1112.5 1186V1179.2M1115.5 1186V1181.0M1118.5 1186V1182.3M1122.5 1186V1183.1M1300.5 1186V1180.2M1317.5 1186V1175.9M1320.5 1186V1176.4M1324.5 1186V1177.5M1327.5 1186V1178.6M1330.5 1186V1178.8M1341.5 1186V1178.2M1344.5 1186V1179.6M1347.5 1186V1181.3M1351.5 1186V1182.6M1408.5 1186V1181.4M1415.5 1186V1181.2M1418.5 1186V1181.6M1421.5 1186V1181.8M1425.5 1186V1182.0M1448.5 1186V1176.7M1452.5 1186V1178.0M1455.5 1186V1180.2M1458.5 1186V1180.6M1472.5 1186V1179.7M1485.5 1186V1176.4M1489.5 1186V1177.4M1492.5 1186V1178.6M1495.5 1186V1179.0M1499.5 1186V1181.0M1502.5 1186V1183.1M1516.5 1186V1180.6M1519.5 1186V1181.4M1522.5 1186V1182.2M1526.5 1186V1183.1M1529.5 1186V1183.7M1532.5 1186V1184.0M1536.5 1186V1184.0M1539.5 1186V1184.0M1566.5 1186V1183.3M1569.5 1186V1183.7M1573.5 1186V1184.0" stroke="#b2dfdb" stroke-width="1" fill="none" shape-rendering="crispEdges"/>
<path d="M156.5 1184V1186.4M159.5 1184V1188.7M170.5 1184V1189.4M173.5 1184V1189.7M237.5 1184V1186.7M240.5 1184V1187.6M244.5 1184V1187.6M250.5 1184V1187.9M254.5 1184V1189.7M348.5 1184V1186.7M351.5 1184V1189.7M371.5 1184V1186.7M375.5 1184V1187.9M378.5 1184V1190.9M385.5 1184V1189.7M388.5 1184V1190.9M392.5 1184V1192.7M395.5 1184V1193.9M419.5 1184V1189.7M422.5 1184V1193.8M425.5 1184V1195.9M429.5 1184V1197.4M432.5 1184V1197.6M462.5 1184V1192.5M466.5 1184V1197.1M489.5 1184V1192.3M577.5 1184V1186.0M580.5 1184V1188.2M583.5 1184V1190.2M587.5 1184V1192.2M590.5 1184V1194.9M600.5 1184V1193.3M604.5 1184V1193.9M614.5 1184V1192.3M617.5 1184V1192.9M641.5 1184V1186.0M644.5 1184V1187.1M647.5 1184V1187.2M651.5 1184V1189.6M654.5 1184V1195.2M657.5 1184V1197.0M661.5 1184V1201.0M664.5 1184V1202.8M674.5 1184V1201.8M688.5 1184V1197.8M691.5 1184V1198.1M711.5 1184V1189.5M715.5 1184V1194.9M718.5 1184V1198.8M731.5 1184V1195.0M735.5 1184V1195.7M745.5 1184V1190.2M755.5 1184V1186.6M822.5 1184V1187.6M826.5 1184V1189.6M829.5 1184V1191.5M832.5 1184V1192.7M876.5 1184V1188.9M880.5 1184V1192.5M883.5 1184V1192.7M970.5 1184V1186.0M974.5 1184V1186.9M977.5 1184V1190.5M980.5 1184V1194.0M984.5 1184V1194.3M987.5 1184V1194.7M1001.5 1184V1190.3M1028.5 1184V1187.5M1031.5 1184V1188.2M1038.5 1184V1186.1M1041.5 1184V1186.9M1044.5 1184V1187.6M1048.5 1184V1188.3M1125.5 1184V1186.0M1129.5 1184V1188.6M1132.5 1184V1191.9M1135.5 1184V1193.6M1139.5 1184V1194.2M1142.5 1184V1196.2M1145.5 1184V1197.8M1149.5 1184V1198.7M1182.5 1184V1187.8M1186.5 1184V1187.9M1196.5 1184V1187.7M1206.5 1184V1186.8M1209.5 1184V1187.4M1219.5 1184V1186.6M1226.5 1184V1186.5M1230.5 1184V1188.0M1233.5 1184V1189.3M1236.5 1184V1192.6M1240.5 1184V1196.1M1243.5 1184V1197.2M1246.5 1184V1199.3M1250.5 1184V1199.3M1354.5 1184V1186.7M1357.5 1184V1191.8M1361.5 1184V1194.7M1364.5 1184V1196.7M1367.5 1184V1198.3M1371.5 1184V1199.1M1374.5 1184V1200.2M1576.5 1184V1186.3M1579.5 1184V1187.3M1583.5 1184V1189.7M1586.5 1184V1191.6M1590.5 1184V1191.7M1593.5 1184V1191.7M1606.5 1184V1190.4M1610.5 1184V1190.6M1613.5 1184V1190.8" stroke="#ef5350" stroke-width="1" fill="none" shape-rendering="crispEdges"/>
<path d="M163.5 1184V1188.2M166.5 1184V1187.2M176.5 1184V1186.4M247.5 1184V1187.2M257.5 1184V1187.9M355.5 1184V1188.7M358.5 1184V1186.4M382.5 1184V1189.7M398.5 1184V1192.4M402.5 1184V1191.7M405.5 1184V1190.2M408.5 1184V1189.4M412.5 1184V1186.1M435.5 1184V1197.1M439.5 1184V1196.4M442.5 1184V1193.3M445.5 1184V1190.9M449.5 1184V1189.5M452.5 1184V1188.1M456.5 1184V1186.7M459.5 1184V1186.5M469.5 1184V1196.0M472.5 1184V1193.7M476.5 1184V1193.4M479.5 1184V1192.9M482.5 1184V1192.2M486.5 1184V1192.2M493.5 1184V1191.2M496.5 1184V1188.1M594.5 1184V1193.0M597.5 1184V1192.5M607.5 1184V1191.9M610.5 1184V1191.6M620.5 1184V1192.8M624.5 1184V1191.1M627.5 1184V1186.3M668.5 1184V1201.9M671.5 1184V1201.5M678.5 1184V1201.0M681.5 1184V1199.3M684.5 1184V1196.5M694.5 1184V1194.6M698.5 1184V1191.9M701.5 1184V1190.1M705.5 1184V1188.6M708.5 1184V1188.1M721.5 1184V1197.6M725.5 1184V1196.0M728.5 1184V1194.7M738.5 1184V1192.3M742.5 1184V1189.2M748.5 1184V1188.3M752.5 1184V1186.6M758.5 1184V1186.4M762.5 1184V1186.0M836.5 1184V1192.2M839.5 1184V1191.3M843.5 1184V1188.5M846.5 1184V1186.4M849.5 1184V1186.0M886.5 1184V1191.8M890.5 1184V1190.9M893.5 1184V1189.8M896.5 1184V1187.9M900.5 1184V1186.2M991.5 1184V1193.3M994.5 1184V1191.3M997.5 1184V1189.8M1034.5 1184V1186.0M1051.5 1184V1187.2M1055.5 1184V1186.0M1152.5 1184V1198.0M1155.5 1184V1197.6M1159.5 1184V1196.4M1162.5 1184V1194.8M1166.5 1184V1194.2M1169.5 1184V1192.1M1172.5 1184V1189.6M1176.5 1184V1188.0M1179.5 1184V1187.4M1189.5 1184V1187.9M1192.5 1184V1186.7M1199.5 1184V1187.3M1203.5 1184V1186.5M1213.5 1184V1186.9M1216.5 1184V1186.5M1223.5 1184V1186.0M1253.5 1184V1198.3M1256.5 1184V1195.4M1260.5 1184V1192.4M1263.5 1184V1190.8M1267.5 1184V1188.8M1270.5 1184V1187.8M1273.5 1184V1186.0M1378.5 1184V1198.2M1381.5 1184V1195.8M1384.5 1184V1192.8M1388.5 1184V1191.4M1391.5 1184V1188.9M1596.5 1184V1191.0M1600.5 1184V1190.2M1603.5 1184V1189.6M1616.5 1184V1190.2M1620.5 1184V1189.4M1623.5 1184V1188.6M1627.5 1184V1187.8M1630.5 1184V1186.9" stroke="#ffcdd2" stroke-width="1" fill="none" shape-rendering="crispEdges"/>
<polyline points="127.8,1222.4 132.0,1211.1 136.0,1205.6 142.2,1201.4 150.0,1204.4 154.2,1205.6 156.0,1211.1 159.7,1213.8 164.2,1214.4 166.0,1212.6 170.2,1216.1 173.9,1217.1 176.2,1213.4 179.9,1211.9 185.9,1205.9 191.9,1205.6 197.9,1201.4 202.1,1200.6 209.9,1199.2 214.0,1199.9 219.7,1199.2 223.9,1197.7 230.1,1198.4 236.1,1198.7 239.9,1201.4 243.6,1202.6 248.1,1202.6 254.1,1205.9 257.9,1204.4 263.9,1198.4 268.1,1193.9 271.8,1186.4 275.9,1178.9 280.0,1169.6 284.1,1163.9 289.8,1156.1 293.8,1154.2 298.3,1154.9 302.1,1157.2 307.3,1156.4 311.8,1153.4 314.1,1148.6 317.8,1146.7 324.1,1139.7 328.3,1138.8 332.0,1140.0 334.3,1137.7 338.0,1136.7 342.1,1137.0 346.3,1140.0 350.0,1143.7 353.8,1146.3 358.0,1143.7 361.7,1141.8 368.0,1140.7 372.2,1143.3 376.0,1144.2 378.1,1147.7 384.0,1148.9 387.9,1150.9 392.0,1154.5 396.2,1158.2 400.0,1159.1 407.9,1158.2 412.0,1155.7 416.0,1153.4 418.0,1160.5 422.2,1166.6 428.0,1174.4 431.9,1180.4 436.0,1183.1 440.0,1185.7 446.0,1183.4 452.0,1182.7 455.9,1181.6 459.9,1181.9 461.9,1187.9 465.9,1196.6 470.0,1198.4 471.9,1198.0 477.9,1201.4 483.9,1203.9 488.0,1206.2 491.9,1208.1 495.9,1205.9 497.9,1202.1 503.9,1192.4 507.9,1183.7 511.9,1178.2 513.9,1174.4 516.1,1163.2 519.9,1156.7 523.6,1151.9 525.9,1148.2 530.1,1145.2 534.1,1140.0 537.9,1137.0 541.9,1135.2 543.9,1134.4 546.1,1130.2 550.2,1125.7 555.9,1119.0 560.0,1114.5 564.1,1111.2 567.8,1113.0 570.1,1117.8 573.8,1120.8 578.0,1124.2 581.8,1129.8 585.8,1134.7 590.0,1142.7 594.1,1143.3 597.8,1145.2 602.0,1148.9 604.1,1150.1 608.3,1149.7 612.0,1151.9 616.1,1154.9 620.3,1158.2 624.0,1157.9 628.2,1151.9 630.0,1148.6 636.0,1149.2 640.1,1151.6 644.0,1153.9 648.0,1154.5 651.8,1157.9 654.0,1164.7 658.1,1170.2 662.0,1178.9 664.0,1184.9 667.9,1187.6 672.0,1190.9 674.2,1196.2 678.0,1198.7 680.0,1200.6 684.0,1200.6 687.9,1206.2 692.0,1210.1 698.0,1207.1 704.0,1205.6 708.0,1205.6 711.9,1208.9 716.0,1217.9 717.9,1223.1 722.0,1225.8 728.0,1228.1 732.0,1232.1 735.9,1235.9 741.9,1232.1 745.9,1234.7 751.9,1231.7 757.9,1232.1 763.9,1231.4 768.0,1228.7 771.9,1224.6 775.9,1221.6 780.0,1215.6 781.9,1210.7 787.9,1205.1 791.9,1199.9 796.1,1201.7 801.8,1205.1 805.9,1206.6 811.9,1205.9 819.8,1207.1 821.9,1210.4 828.1,1216.1 831.8,1221.2 835.9,1222.7 840.0,1223.4 845.9,1219.7 851.9,1218.6 858.0,1214.1 861.8,1213.1 868.1,1211.9 874.1,1213.1 876.0,1218.6 880.1,1225.1 884.1,1228.4 888.3,1229.6 894.0,1229.1 900.3,1226.1 906.3,1220.1 913.8,1214.9 918.0,1214.9 920.1,1213.7 924.0,1207.1 928.0,1201.4 930.0,1195.4 934.0,1188.7 938.1,1183.1 940.0,1178.9 944.0,1176.7 950.0,1176.4 953.9,1177.0 958.0,1176.7 960.0,1173.7 964.0,1172.6 967.9,1176.7 970.0,1179.7 976.0,1183.4 979.9,1192.1 984.0,1195.7 988.0,1198.7 991.9,1199.2 997.9,1198.1 1002.0,1199.2 1003.9,1193.9 1008.0,1187.2 1012.0,1181.9 1013.9,1180.1 1019.9,1184.2 1024.0,1186.7 1027.9,1190.9 1031.9,1192.4 1033.9,1189.7 1037.9,1190.2 1043.9,1192.1 1048.0,1193.9 1054.0,1192.7 1057.9,1189.7 1063.9,1186.7 1067.9,1183.4 1069.8,1181.5 1075.8,1180.9 1077.9,1178.9 1081.8,1177.1 1085.9,1174.1 1087.8,1171.7 1091.9,1169.2 1095.9,1164.2 1097.9,1160.6 1101.9,1157.2 1105.8,1156.0 1108.1,1156.7 1111.8,1156.9 1118.1,1158.4 1121.8,1158.7 1125.9,1160.9 1127.8,1163.2 1131.9,1169.6 1136.1,1174.4 1139.8,1177.4 1144.0,1184.9 1150.0,1191.7 1154.1,1195.0 1158.1,1196.9 1162.0,1198.1 1166.1,1199.9 1170.1,1199.6 1172.0,1198.4 1176.1,1197.4 1180.3,1197.4 1184.0,1199.2 1190.0,1200.2 1192.0,1199.2 1196.0,1201.1 1200.1,1201.1 1204.0,1200.6 1210.0,1202.6 1216.0,1202.6 1220.0,1202.9 1224.0,1201.1 1226.0,1202.9 1230.0,1205.1 1233.9,1207.7 1238.0,1214.9 1240.0,1218.2 1244.0,1223.1 1246.0,1228.4 1250.0,1232.6 1253.9,1235.1 1256.0,1235.1 1259.9,1232.9 1264.0,1232.4 1268.0,1231.1 1270.0,1231.4 1276.0,1228.7 1280.0,1226.6 1283.9,1224.2 1288.0,1223.1 1290.2,1221.2 1295.9,1218.9 1299.9,1217.6 1304.0,1216.1 1307.9,1214.4 1310.0,1209.6 1313.9,1205.6 1317.9,1204.4 1319.9,1202.6 1325.9,1201.7 1329.9,1200.3 1334.0,1197.4 1337.9,1195.1 1343.9,1194.2 1347.9,1195.1 1351.9,1196.6 1353.9,1199.9 1357.9,1208.1 1361.8,1214.9 1365.9,1222.1 1367.8,1224.6 1371.9,1229.1 1373.8,1233.6 1377.9,1234.7 1381.9,1234.7 1383.9,1234.1 1388.1,1234.1 1391.8,1232.1 1395.9,1227.2 1400.0,1225.4 1404.1,1223.1 1407.8,1222.4 1413.8,1220.6 1418.0,1219.7 1425.8,1218.6 1427.8,1216.1 1432.1,1214.1 1436.0,1211.6 1438.1,1208.1 1442.0,1205.1 1448.0,1201.1 1452.0,1200.6 1456.1,1201.8 1460.3,1199.9 1466.3,1197.7 1468.2,1195.7 1472.0,1194.7 1476.0,1192.1 1480.1,1187.9 1482.0,1185.4 1486.1,1183.4 1492.2,1181.9 1496.0,1181.2 1500.0,1182.7 1502.0,1183.9 1506.0,1182.7 1510.0,1180.1 1512.0,1178.6 1516.0,1177.7 1520.0,1177.7 1526.0,1178.2 1532.0,1178.9 1539.9,1179.2 1548.0,1178.9 1554.0,1178.2 1560.0,1177.0 1566.0,1176.4 1572.0,1176.7 1575.9,1178.9 1579.9,1180.1 1581.9,1181.6 1585.9,1186.7 1590.0,1188.7 1593.9,1190.2 1597.9,1191.4 1603.9,1192.1 1605.9,1193.9 1609.9,1196.2 1614.0,1197.7 1617.9,1198.1 1621.9,1198.7 1627.9,1198.7 1630.9,1198.4" fill="none" stroke="#2196f3" stroke-width="2.0" stroke-linejoin="round" stroke-linecap="round" />
<polyline points="127.8,1233.6 132.0,1226.9 136.0,1222.1 140.2,1217.9 142.2,1214.9 146.2,1212.2 150.0,1210.7 154.2,1209.9 162.0,1211.6 168.0,1212.9 173.9,1214.1 179.9,1213.4 183.7,1212.3 187.9,1210.4 191.9,1209.6 197.9,1207.1 203.9,1205.1 209.9,1203.2 215.9,1202.1 223.9,1200.6 230.1,1199.9 236.1,1199.9 242.1,1200.6 248.1,1201.1 254.1,1202.1 260.1,1202.6 263.9,1201.7 268.1,1200.6 271.8,1197.7 275.9,1194.2 278.1,1191.7 280.0,1187.2 284.1,1182.7 287.8,1178.2 291.9,1172.6 293.8,1169.6 298.0,1166.6 304.3,1163.2 310.0,1160.9 314.1,1157.9 320.1,1154.2 326.1,1148.9 332.0,1146.3 334.3,1144.8 340.3,1142.2 344.3,1141.2 348.2,1141.5 354.2,1143.0 360.1,1143.0 368.0,1142.2 376.0,1143.0 382.0,1144.8 386.0,1146.0 392.0,1148.6 398.0,1152.2 400.0,1152.7 406.0,1154.6 410.0,1155.4 416.0,1155.4 422.2,1157.9 428.0,1162.1 431.9,1167.7 437.9,1172.6 442.0,1176.2 448.0,1178.2 453.9,1179.7 459.9,1180.4 465.9,1184.5 471.9,1189.1 477.9,1193.2 483.9,1196.9 489.9,1199.9 494.0,1201.7 497.9,1201.8 503.9,1199.9 507.9,1196.2 511.9,1192.4 514.6,1188.7 516.1,1184.9 519.9,1180.1 523.6,1174.4 526.6,1168.4 530.1,1163.9 534.1,1157.9 535.9,1154.9 539.8,1151.2 543.9,1147.5 546.1,1143.7 550.2,1139.2 554.1,1135.5 555.9,1132.5 560.0,1128.7 564.1,1124.7 567.8,1122.7 571.9,1122.0 576.1,1122.7 579.8,1124.2 584.0,1127.2 588.1,1131.0 591.8,1133.7 596.0,1136.7 600.1,1139.2 606.1,1142.2 612.0,1145.2 616.1,1147.2 620.3,1150.1 624.3,1151.5 630.0,1151.5 636.0,1150.9 642.0,1151.6 648.0,1152.2 651.8,1153.0 656.0,1156.4 660.0,1159.7 662.3,1162.7 664.0,1166.9 667.9,1170.7 672.0,1174.4 674.2,1179.2 678.0,1182.7 680.0,1184.6 686.0,1191.7 693.9,1198.7 699.9,1200.6 710.0,1203.2 716.0,1206.6 720.0,1211.6 726.0,1216.7 732.0,1222.1 738.0,1226.6 744.0,1228.7 747.9,1229.9 756.0,1230.3 762.0,1230.9 768.0,1230.6 774.0,1228.8 780.0,1225.4 781.9,1222.7 789.8,1216.1 791.9,1212.9 796.1,1210.7 802.1,1208.9 808.1,1208.1 814.1,1207.4 820.1,1207.7 828.1,1210.4 831.8,1213.4 838.1,1216.4 841.8,1217.9 847.8,1218.3 853.8,1217.9 861.8,1216.1 868.1,1214.9 874.1,1214.4 880.1,1217.6 886.1,1222.1 892.0,1224.2 898.0,1225.1 904.0,1224.6 910.0,1223.1 918.0,1220.1 924.0,1216.4 928.0,1212.6 931.8,1207.7 938.1,1200.6 940.0,1196.9 946.0,1190.9 950.0,1187.2 956.0,1184.6 960.0,1180.9 966.0,1179.2 972.0,1179.7 978.0,1181.6 984.0,1186.4 990.0,1190.2 996.0,1193.2 1003.9,1193.9 1009.9,1191.2 1013.9,1188.7 1019.9,1187.2 1025.9,1188.2 1031.9,1189.1 1037.9,1189.1 1043.9,1189.7 1049.9,1190.9 1055.9,1191.2 1063.9,1189.7 1069.8,1187.2 1075.8,1185.2 1081.8,1182.7 1085.9,1180.9 1091.9,1177.4 1095.9,1174.4 1097.9,1172.2 1101.9,1169.2 1108.1,1164.4 1114.1,1162.1 1120.0,1160.9 1125.9,1160.6 1129.8,1161.7 1133.8,1164.2 1139.8,1168.1 1144.0,1172.6 1150.0,1177.7 1152.1,1180.4 1158.1,1184.9 1164.1,1189.7 1170.1,1192.9 1174.0,1193.9 1180.3,1195.1 1186.3,1196.6 1194.1,1198.1 1200.1,1198.9 1208.0,1199.9 1216.0,1201.1 1224.0,1201.4 1230.0,1202.1 1233.9,1203.2 1239.9,1207.1 1244.0,1210.7 1246.0,1214.1 1252.0,1220.1 1256.0,1223.9 1262.0,1226.1 1268.0,1227.9 1271.9,1228.7 1277.9,1228.7 1283.9,1227.6 1288.0,1226.6 1292.0,1225.1 1298.0,1223.1 1301.9,1221.6 1307.9,1219.7 1311.9,1216.7 1317.9,1213.4 1319.9,1211.6 1325.9,1208.6 1329.9,1206.2 1335.9,1203.6 1341.9,1201.1 1343.9,1199.9 1347.9,1198.7 1351.9,1198.7 1355.8,1199.9 1359.9,1202.6 1362.1,1205.1 1365.9,1209.6 1371.9,1214.9 1373.8,1217.9 1377.9,1221.3 1381.9,1224.2 1383.9,1225.8 1388.1,1227.6 1391.8,1228.4 1395.9,1228.7 1401.8,1227.6 1405.9,1226.4 1411.9,1225.1 1418.0,1223.1 1425.8,1221.6 1430.0,1220.1 1436.0,1217.9 1440.1,1214.9 1446.1,1211.4 1448.0,1209.6 1452.0,1207.7 1456.1,1206.2 1460.3,1204.4 1466.3,1202.6 1470.0,1200.6 1476.0,1198.4 1480.1,1196.2 1482.0,1194.2 1488.0,1190.9 1492.2,1188.4 1496.0,1187.2 1502.0,1185.7 1507.9,1184.9 1513.9,1182.7 1519.9,1181.2 1526.0,1180.1 1533.9,1179.7 1542.0,1180.0 1550.0,1180.0 1557.9,1178.9 1566.0,1178.2 1572.0,1177.7 1579.9,1177.9 1584.0,1178.9 1587.9,1181.2 1593.9,1183.4 1597.9,1185.7 1603.9,1187.6 1609.9,1190.6 1615.9,1192.4 1621.9,1194.7 1627.9,1196.2 1630.9,1196.6" fill="none" stroke="#ff6d00" stroke-width="2.0" stroke-linejoin="round" stroke-linecap="round" />
<path d="M1708 763H1824V797H1708a4 4 0 0 1 -4 -4V767a4 4 0 0 1 4 -4z" fill="#ef5350"/>
<path d="M1826 763H1968a4 4 0 0 1 4 4V821a4 4 0 0 1 -4 4H1826z" fill="#ef5350"/>
<path d="M32 1011.5H128V1044.5H32a4 4 0 0 1 -4 -4V1015.5a4 4 0 0 1 4 -4z" fill="#2962ff"/>
<circle cx="73.8" cy="1278" r="20.5" fill="#f0f3fa"/>
<circle cx="1903.4" cy="1278" r="20.5" fill="#f0f3fa"/>
<g fill="#131722"><path d="M20 1330.4H35.3V1349.3H27.9V1337.7H20z"/><circle cx="42.1" cy="1334.6" r="4.2"/><path d="M51.2 1330.4H59.1L51.2 1349.3H42.6z"/></g>
<text x="20.2" y="40" font-size="24" fill="#131722" font-weight="normal" letter-spacing="0.712" stroke="#131722" stroke-width="0.3">ingaseri</text>
<text x="116.4" y="40" font-size="24" fill="#131722" font-weight="normal" letter-spacing="0.937" stroke="#131722" stroke-width="0.3">published</text>
<text x="233" y="40" font-size="24" fill="#131722" font-weight="normal" letter-spacing="1.852" stroke="#131722" stroke-width="0.3">on</text>
<text x="268.5" y="40" font-size="24" fill="#131722" font-weight="normal" letter-spacing="0.663" stroke="#131722" stroke-width="0.3">TradingView.com,</text>
<text x="144" y="94.0" font-size="24" fill="#131722" font-weight="normal" letter-spacing="1.085" stroke="#131722" stroke-width="0.3">Bitcoin</text>
<text x="228.7" y="94.0" font-size="24" fill="#131722" font-weight="normal" letter-spacing="0" stroke="#131722" stroke-width="0.3">/</text>
<text x="242.1" y="94.0" font-size="24" fill="#131722" font-weight="normal" letter-spacing="0.264" stroke="#131722" stroke-width="0.3">U.S.</text>
<text x="296.3" y="94.0" font-size="24" fill="#131722" font-weight="normal" letter-spacing="0.557" stroke="#131722" stroke-width="0.3">Dollar,</text>
<text x="373.8" y="94.0" font-size="24" fill="#131722" font-weight="normal" letter-spacing="-0.89" stroke="#131722" stroke-width="0.3">1D,</text>
<text x="415.2" y="94.0" font-size="24" fill="#131722" font-weight="normal" letter-spacing="-0.335" stroke="#131722" stroke-width="0.3">INDEX</text>
<text x="501.9" y="94.0" font-size="24" fill="#131722" font-weight="normal" letter-spacing="0" stroke="#131722" stroke-width="0.3">O</text>
<text x="521.1" y="94.0" font-size="24" fill="#ef5350" font-weight="normal" letter-spacing="0.707" stroke="#ef5350" stroke-width="0.15">20130.60</text>
<text x="640.2" y="94.0" font-size="24" fill="#131722" font-weight="normal" letter-spacing="0" stroke="#131722" stroke-width="0.3">H</text>
<text x="658.2" y="94.0" font-size="24" fill="#ef5350" font-weight="normal" letter-spacing="0.807" stroke="#ef5350" stroke-width="0.15">20290.18</text>
<text x="778.8" y="94.0" font-size="24" fill="#131722" font-weight="normal" letter-spacing="0" stroke="#131722" stroke-width="0.3">L</text>
<text x="793.3" y="94.0" font-size="24" fill="#ef5350" font-weight="normal" letter-spacing="0.778" stroke="#ef5350" stroke-width="0.15">19958.43</text>
<text x="912.9" y="94.0" font-size="24" fill="#131722" font-weight="normal" letter-spacing="0" stroke="#131722" stroke-width="0.3">C</text>
<text x="930.7" y="94.0" font-size="24" fill="#ef5350" font-weight="normal" letter-spacing="1.364" stroke="#ef5350" stroke-width="0.15">20098.56</text>
<text x="1054.7" y="94.0" font-size="24" fill="#ef5350" font-weight="normal" letter-spacing="1.155" stroke="#ef5350" stroke-width="0.15">−28.88</text>
<text x="1144.1" y="94.0" font-size="24" fill="#ef5350" font-weight="normal" letter-spacing="0.306" stroke="#ef5350" stroke-width="0.15">(−0.14%)</text>
<text x="144" y="128.3" font-size="24" fill="#131722" font-weight="normal" letter-spacing="-0.5" stroke="#131722" stroke-width="0.3">SMA</text>
<text x="203.4" y="128.3" font-size="24" fill="#131722" font-weight="normal" letter-spacing="-0.497" stroke="#131722" stroke-width="0.3">RIBBON</text>
<text x="301.3" y="128.3" font-size="24" fill="#131722" font-weight="normal" letter-spacing="0.271" stroke="#131722" stroke-width="0.3">(20,</text>
<text x="352.3" y="128.3" font-size="24" fill="#131722" font-weight="normal" letter-spacing="1.002" stroke="#131722" stroke-width="0.3">50,</text>
<text x="396.2" y="128.3" font-size="24" fill="#131722" font-weight="normal" letter-spacing="-0.681" stroke="#131722" stroke-width="0.3">100,</text>
<text x="449.4" y="128.3" font-size="24" fill="#131722" font-weight="normal" letter-spacing="-0.348" stroke="#131722" stroke-width="0.3">150,</text>
<text x="502.4" y="128.3" font-size="24" fill="#131722" font-weight="normal" letter-spacing="0.719" stroke="#131722" stroke-width="0.3">200,</text>
<text x="561" y="128.3" font-size="24" fill="#131722" font-weight="normal" letter-spacing="0.319" stroke="#131722" stroke-width="0.3">250,</text>
<text x="618.7" y="128.3" font-size="24" fill="#131722" font-weight="normal" letter-spacing="1.219" stroke="#131722" stroke-width="0.3">300,</text>
<text x="676.9" y="128.3" font-size="24" fill="#131722" font-weight="normal" letter-spacing="1.386" stroke="#131722" stroke-width="0.3">400,</text>
<text x="735.6" y="128.3" font-size="24" fill="#131722" font-weight="normal" letter-spacing="1.386" stroke="#131722" stroke-width="0.3">500,</text>
<text x="792.6" y="128.3" font-size="24" fill="#131722" font-weight="normal" letter-spacing="2.119" stroke="#131722" stroke-width="0.3">600)</text>
<text x="861.2" y="128.3" font-size="24" fill="#f23645" font-weight="normal" letter-spacing="1.305" stroke="#f23645" stroke-width="0.15">22324.73360000</text>
<text x="1073.2" y="128.3" font-size="24" fill="#ffeb3b" font-weight="normal" letter-spacing="0.657" stroke="#ffeb3b" stroke-width="0.15">23112.12050000</text>
<text x="474.9" y="40" font-size="24" fill="#131722" font-weight="normal" letter-spacing="0.122" stroke="#131722" stroke-width="0.3">Sep</text>
<text x="526.5" y="40" font-size="24" fill="#131722" font-weight="normal" letter-spacing="0.652" stroke="#131722" stroke-width="0.3">02,</text>
<text x="568.7" y="40" font-size="24" fill="#131722" font-weight="normal" letter-spacing="1.352" stroke="#131722" stroke-width="0.3">2022</text>
<text x="634.5" y="40" font-size="24" fill="#131722" font-weight="normal" letter-spacing="0.597" stroke="#131722" stroke-width="0.3">06:18</text>
<text x="704.9" y="40" font-size="24" fill="#131722" font-weight="normal" letter-spacing="-0.596" stroke="#131722" stroke-width="0.3">UTC</text>
<text x="1846.3" y="89" font-size="24" fill="#131722" font-weight="normal" letter-spacing="-0.82" stroke="#131722" stroke-width="0.3">USD</text>
<text x="1846.5" y="141.9" font-size="24" fill="#131722" font-weight="normal" letter-spacing="1.649" stroke="#131722" stroke-width="0.3">70000.00</text>
<text x="1846.5" y="204.4" font-size="24" fill="#131722" font-weight="normal" letter-spacing="1.649" stroke="#131722" stroke-width="0.3">62000.00</text>
<text x="1847.5" y="276.4" font-size="24" fill="#131722" font-weight="normal" letter-spacing="1.507" stroke="#131722" stroke-width="0.3">54000.00</text>
<text x="1847.5" y="359.4" font-size="24" fill="#131722" font-weight="normal" letter-spacing="1.507" stroke="#131722" stroke-width="0.3">46000.00</text>
<text x="1847.5" y="451.4" font-size="24" fill="#131722" font-weight="normal" letter-spacing="1.507" stroke="#131722" stroke-width="0.3">38500.00</text>
<text x="1847.5" y="539.4" font-size="24" fill="#131722" font-weight="normal" letter-spacing="1.507" stroke="#131722" stroke-width="0.3">32500.00</text>
<text x="1846.5" y="607.6" font-size="24" fill="#131722" font-weight="normal" letter-spacing="1.649" stroke="#131722" stroke-width="0.3">28500.00</text>
<text x="1846.5" y="685.4" font-size="24" fill="#131722" font-weight="normal" letter-spacing="1.649" stroke="#131722" stroke-width="0.3">24500.00</text>
<text x="1846.5" y="753.1999999999999" font-size="24" fill="#131722" font-weight="normal" letter-spacing="1.649" stroke="#131722" stroke-width="0.3">21500.00</text>
<text x="1846.5" y="887.4" font-size="24" fill="#131722" font-weight="normal" letter-spacing="1.649" stroke="#131722" stroke-width="0.3">16600.00</text>
<text x="1847.5" y="1127.4" font-size="24" fill="#131722" font-weight="normal" letter-spacing="1.466" stroke="#131722" stroke-width="0.3">4000.00</text>
<text x="1847.5" y="1193.4" font-size="24" fill="#131722" font-weight="normal" letter-spacing="1.046" stroke="#131722" stroke-width="0.3">0.00</text>
<text x="1715.2" y="788.3" font-size="24" fill="#ffffff" font-weight="normal" letter-spacing="-0.328" stroke="#ffffff" stroke-width="0">BTCUSD</text>
<text x="1847" y="788.4" font-size="24" fill="#ffffff" font-weight="normal" letter-spacing="1.578" stroke="#ffffff" stroke-width="0">20098.56</text>
<text x="1847.4" y="815.7" font-size="24" fill="#ffffff" font-weight="normal" letter-spacing="1.361" stroke="#ffffff" stroke-width="0" fill-opacity="0.78">17:41:46</text>
<text x="40.3" y="955.4" font-size="24" fill="#131722" font-weight="normal" letter-spacing="1.647" stroke="#131722" stroke-width="0.3">75.00</text>
<text x="40.3" y="1075.4" font-size="24" fill="#131722" font-weight="normal" letter-spacing="1.647" stroke="#131722" stroke-width="0.3">25.00</text>
<text x="40.2" y="1036.4" font-size="24" fill="#ffffff" font-weight="normal" letter-spacing="1.247" stroke="#ffffff" stroke-width="0">41.07</text>
<text x="144.2" y="961.7" font-size="24" fill="#131722" font-weight="normal" letter-spacing="-1.32" stroke="#131722" stroke-width="0.3">RSI</text>
<text x="189.4" y="961.7" font-size="24" fill="#131722" font-weight="normal" letter-spacing="-0.396" stroke="#131722" stroke-width="0.3">(14,</text>
<text x="237.4" y="961.7" font-size="24" fill="#131722" font-weight="normal" letter-spacing="0.635" stroke="#131722" stroke-width="0.3">close)</text>
<text x="321.6" y="961.7" font-size="24" fill="#8e1599" font-weight="normal" letter-spacing="0.047" stroke="#8e1599" stroke-width="0.15">37.46</text>
<text x="144.2" y="1135.5" font-size="24" fill="#131722" font-weight="normal" letter-spacing="-0.277" stroke="#131722" stroke-width="0.3">MACD</text>
<text x="223.2" y="1135.5" font-size="24" fill="#131722" font-weight="normal" letter-spacing="-0.429" stroke="#131722" stroke-width="0.3">(12,</text>
<text x="270.4" y="1135.5" font-size="24" fill="#131722" font-weight="normal" letter-spacing="0.752" stroke="#131722" stroke-width="0.3">26,</text>
<text x="312.3" y="1135.5" font-size="24" fill="#131722" font-weight="normal" letter-spacing="1.035" stroke="#131722" stroke-width="0.3">close,</text>
<text x="387.2" y="1135.5" font-size="24" fill="#131722" font-weight="normal" letter-spacing="0.952" stroke="#131722" stroke-width="0.3">9)</text>
<text x="424.8" y="1135.5" font-size="24" fill="#ffcdd2" font-weight="normal" letter-spacing="0.588" stroke="#ffcdd2" stroke-width="0.15">−126.29</text>
<text x="530" y="1135.5" font-size="24" fill="#2196f3" font-weight="normal" letter-spacing="0.288" stroke="#2196f3" stroke-width="0.15">−790.81</text>
<text x="634" y="1135.5" font-size="24" fill="#ff6d00" font-weight="normal" letter-spacing="1.271" stroke="#ff6d00" stroke-width="0.15">−664.52</text>
<text x="175" y="1288.2" font-size="24" fill="#131722" font-weight="normal" letter-spacing="0.726" stroke="#131722" stroke-width="0.3">Jul</text>
<text x="377" y="1288.2" font-size="24" fill="#131722" font-weight="normal" letter-spacing="0.322" stroke="#131722" stroke-width="0.3">Sep</text>
<text x="582" y="1288.2" font-size="24" fill="#131722" font-weight="normal" letter-spacing="0.36" stroke="#131722" stroke-width="0.3">Nov</text>
<text x="778.7" y="1288.2" font-size="24" fill="#131722" font-weight="bold" letter-spacing="2.919" stroke="#131722" stroke-width="0.3">2022</text>
<text x="986" y="1288.2" font-size="24" fill="#131722" font-weight="normal" letter-spacing="0.83" stroke="#131722" stroke-width="0.3">Mar</text>
<text x="1190" y="1288.2" font-size="24" fill="#131722" font-weight="normal" letter-spacing="0.23" stroke="#131722" stroke-width="0.3">May</text>
<text x="1402.7" y="1288.2" font-size="24" fill="#131722" font-weight="normal" letter-spacing="1.126" stroke="#131722" stroke-width="0.3">Jul</text>
<text x="1605.1" y="1288.2" font-size="24" fill="#131722" font-weight="normal" letter-spacing="0.172" stroke="#131722" stroke-width="0.3">Sep</text>
<text x="1790.9" y="1288.2" font-size="24" fill="#131722" font-weight="normal" letter-spacing="1.652" stroke="#131722" stroke-width="0.3">24</text>
<text x="67" y="1285.8" font-size="23" fill="#4a4e5a" font-weight="normal" letter-spacing="0" stroke="#4a4e5a" stroke-width="0.3">Z</text>
<text x="1896.6" y="1285.8" font-size="23" fill="#4a4e5a" font-weight="normal" letter-spacing="0" stroke="#4a4e5a" stroke-width="0.3">A</text>
<text x="66.9" y="1350.7" font-size="25.5" fill="#131722" font-weight="normal" letter-spacing="0.679" stroke="#131722" stroke-width="0.5">TradingView</text>
</svg></body></html>
